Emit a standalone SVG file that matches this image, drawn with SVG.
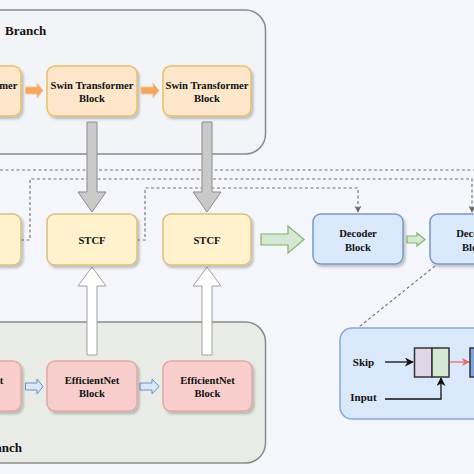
<svg xmlns="http://www.w3.org/2000/svg" width="474" height="474" viewBox="0 0 474 474">
<defs>
<filter id="sh" x="-10%" y="-10%" width="130%" height="140%">
<feDropShadow dx="2" dy="2.5" stdDeviation="1" flood-color="#000" flood-opacity="0.22"/>
</filter>
<marker id="ga" viewBox="0 0 10 10" refX="9" refY="5" markerWidth="7" markerHeight="7" orient="auto" markerUnits="userSpaceOnUse">
<path d="M0,0 L10,5 L0,10 L3,5 Z" fill="#666"/>
</marker>
<marker id="ba" viewBox="0 0 10 10" refX="9" refY="5" markerWidth="9" markerHeight="9" orient="auto" markerUnits="userSpaceOnUse">
<path d="M0,0 L10,5 L0,10 L3,5 Z" fill="#111"/>
</marker>
<marker id="ra" viewBox="0 0 10 10" refX="9" refY="5" markerWidth="8" markerHeight="8" orient="auto" markerUnits="userSpaceOnUse">
<path d="M0,0 L10,5 L0,10 L3,5 Z" fill="#ea6b66"/>
</marker>
</defs>
<style>
text{font-family:"Liberation Serif","Times New Roman",serif;font-weight:bold;fill:#111;text-anchor:middle}
.lbl{font-size:10.6px}
.panel{stroke:#8a8a8a;stroke-width:1.5}
.swin{fill:#fde6c9;stroke:#e5c068;stroke-width:1.5;filter:url(#sh)}
.stcf{fill:#fff2cc;stroke:#d9c07a;stroke-width:1.5;filter:url(#sh)}
.eff{fill:#f8cecc;stroke:#e4a7a4;stroke-width:1.5;filter:url(#sh)}
.dec{fill:#dae8fc;stroke:#7b98c6;stroke-width:1.5;filter:url(#sh)}
.dash{fill:none;stroke:#777;stroke-width:1.2;stroke-dasharray:3 2.5}
.oa{fill:#f7a55e;stroke:#f3c79a;stroke-width:1}
.bla{fill:#dae8fc;stroke:#6c8ebf;stroke-width:1}
.gd{fill:#c9c9c9;stroke:#8c8c8c;stroke-width:1}
.wu{fill:#ffffff;stroke:#a0a0a0;stroke-width:1}
.grn{fill:#d5e8d4;stroke:#82b366;stroke-width:1.2}
</style>
<rect x="0" y="0" width="474" height="474" fill="#f5f5fc"/>

<g id="transformer-branch">
<rect class="panel" x="-30" y="10" width="295.5" height="144" rx="20" fill="#f3f4f8"/>
<text x="5" y="35" font-family="Liberation Serif, serif" style="font-size:13px;text-anchor:start">Branch</text>
</g>
<g id="cnn-branch">
<rect class="panel" x="-30" y="322" width="295.5" height="141" rx="20" fill="#e9ece6"/>
<text x="22" y="452" font-family="Liberation Serif, serif" style="font-size:13px;text-anchor:end">Branch</text>
</g>

<g id="connectors">
<path class="dash" d="M0,170 H480"/>
<path class="dash" d="M21,240 H30 V179 H472 V212" marker-end="url(#ga)"/>
<path class="dash" d="M137,240 H145 V188 H358 V212" marker-end="url(#ga)"/>
<path class="dash" d="M435,266 L359,327"/>
<polygon class="oa" points="25.5,87 37,87 37,83 43,90.5 37,98 37,94 25.5,94"/>
<polygon class="oa" points="141,87 153,87 153,83 159,90.5 153,98 153,94 141,94"/>
<polygon class="bla" points="25.5,383 37,383 37,379 43,386.5 37,394 37,390 25.5,390"/>
<polygon class="bla" points="140,383 152,383 152,379 159,386.5 152,394 152,390 140,390"/>
<polygon class="gd" points="87,122 97,122 97,192 106,192 92,212 78,192 87,192"/>
<polygon class="gd" points="202,122 212,122 212,192 221,192 207,212 193,192 202,192"/>
<polygon class="wu" points="87,355 97,355 97,286 106,286 92,267 78,286 87,286"/>
<polygon class="wu" points="202,355 212,355 212,286 221,286 207,267 193,286 202,286"/>
<polygon class="grn" points="261,234 288,234 288,226 304,239.5 288,253 288,245 261,245"/>
<polygon class="grn" points="407,236 417,236 417,233 425,239.5 417,246 417,243 407,243"/>
</g>

<g id="swin-0"><rect class="swin" x="-69" y="66" width="90" height="50" rx="8"/><text class="lbl" x="-24" y="89">Swin Transformer</text></g>
<g id="swin-1"><rect class="swin" x="47" y="66" width="90" height="50" rx="8"/><text class="lbl" x="92" y="89">Swin Transformer</text><text class="lbl" x="92" y="102">Block</text></g>
<g id="swin-2"><rect class="swin" x="163" y="66" width="88" height="50" rx="8"/><text class="lbl" x="207" y="89">Swin Transformer</text><text class="lbl" x="207" y="102">Block</text></g>

<g id="stcf-0"><rect class="stcf" x="-69" y="214" width="90" height="51" rx="8"/></g>
<g id="stcf-1"><rect class="stcf" x="47" y="214" width="90" height="51" rx="8"/><text class="lbl" x="92" y="243.5">STCF</text></g>
<g id="stcf-2"><rect class="stcf" x="163" y="214" width="88" height="51" rx="8"/><text class="lbl" x="207" y="243.5">STCF</text></g>

<g id="eff-0"><rect class="eff" x="-69" y="361" width="90" height="50" rx="8"/><text class="lbl" x="-24" y="384">EfficientNet</text></g>
<g id="eff-1"><rect class="eff" x="47" y="361" width="90" height="50" rx="8"/><text class="lbl" x="92" y="384">EfficientNet</text><text class="lbl" x="92" y="397">Block</text></g>
<g id="eff-2"><rect class="eff" x="163" y="361" width="89" height="50" rx="8"/><text class="lbl" x="207.5" y="384">EfficientNet</text><text class="lbl" x="207.5" y="397">Block</text></g>

<g id="decoder-1"><rect class="dec" x="313" y="214" width="90" height="50" rx="8"/><text class="lbl" x="358" y="236.5">Decoder</text><text class="lbl" x="358" y="250.5">Block</text></g>
<g id="decoder-2"><rect class="dec" x="430" y="214" width="90" height="50" rx="8"/><text class="lbl" x="475" y="236.5">Decoder</text><text class="lbl" x="475" y="250.5">Block</text></g>

<g id="detail">
<rect x="340" y="328" width="160" height="91" rx="12" fill="#dae8fc" stroke="#8aa6d2" stroke-width="1.5"/>
<text x="363.5" y="366" style="font-size:11px">Skip</text>
<text x="363.5" y="401" style="font-size:11px">Input</text>
<path d="M385,362 H413" fill="none" stroke="#111" stroke-width="1.3" marker-end="url(#ba)"/>
<path d="M385,399 H441 V378" fill="none" stroke="#111" stroke-width="1.3" marker-end="url(#ba)"/>
<rect x="414.5" y="348" width="17.5" height="29" fill="#e1d5e7" stroke="#333" stroke-width="1.5"/>
<rect x="432" y="348" width="17" height="29" fill="#d5e8d4" stroke="#333" stroke-width="1.5"/>
<path d="M449.5,362 H469" fill="none" stroke="#ea6b66" stroke-width="1.3" marker-end="url(#ra)"/>
<rect x="470" y="348" width="17" height="29" fill="#7ea6e0" stroke="#333" stroke-width="1.5"/>
</g>
</svg>
